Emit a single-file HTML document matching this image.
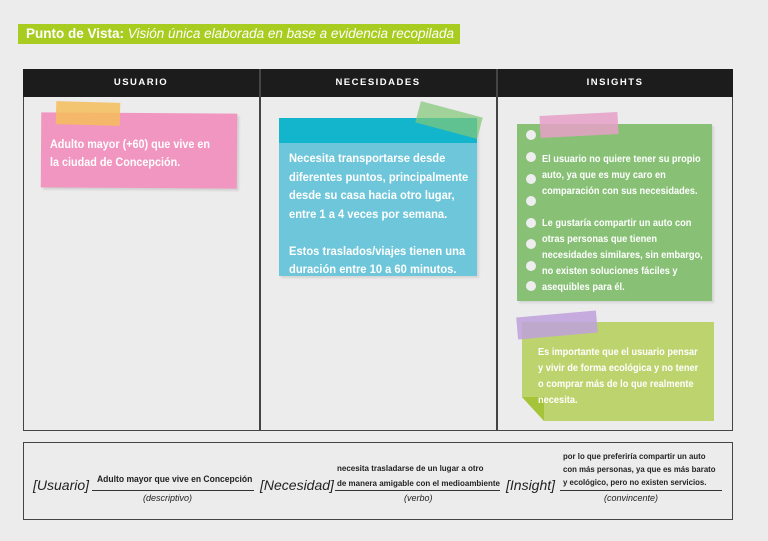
<!DOCTYPE html>
<html><head><meta charset="utf-8"><style>
*{margin:0;padding:0;box-sizing:border-box}
body{width:768px;height:541px;background:#ececec;position:relative;overflow:hidden;font-family:"Liberation Sans",sans-serif}
.a{position:absolute}
.h{font-weight:bold;color:#fff;transform:scaleX(.9);transform-origin:0 0;white-space:nowrap}
.hd{color:#fff;font-size:9.5px;font-weight:bold;letter-spacing:1.5px;text-align:center;line-height:28px;top:69px;height:28px;background:#1c1c1c}
.dot{position:absolute;left:9px;width:10px;height:10px;border-radius:50%;background:#eee}
.bt{font-weight:bold;color:#222;font-size:9px;line-height:15px;transform:scaleX(.94);transform-origin:0 0;white-space:nowrap}
.it{font-style:italic;color:#222}
</style></head><body>
<div class="a" style="left:18px;top:24px;width:442px;height:20px;background:#a8cc20;color:#fff;font-size:13.5px;line-height:20px;padding-left:8px;white-space:nowrap"><b>Punto de Vista:</b> <i>Visión única elaborada en base a evidencia recopilada</i></div>

<div class="a" style="left:23px;top:69px;width:710px;height:362px;border:1.5px solid #444"></div>
<div class="a hd" style="left:23px;width:236px">USUARIO</div>
<div class="a hd" style="left:260px;width:236px">NECESIDADES</div>
<div class="a hd" style="left:497px;width:236px">INSIGHTS</div>
<div class="a" style="left:259px;top:69px;width:1.5px;height:362px;background:#444"></div>
<div class="a" style="left:496px;top:69px;width:1.5px;height:362px;background:#444"></div>

<!-- pink -->
<div class="a" style="left:41px;top:113px;width:196px;height:75px;background:#f196c0;transform:rotate(0.4deg);box-shadow:2px 2px 2px rgba(0,0,0,.12)"></div>
<div class="a" style="left:56px;top:102px;width:64px;height:23px;background:rgba(246,190,90,.85);transform:rotate(1.5deg)"></div>
<div class="a h" style="left:50px;top:135px;font-size:12px;line-height:18px">Adulto mayor (+60) que vive en<br>la ciudad de Concepción.</div>

<!-- blue -->
<div class="a" style="left:279px;top:118px;width:198px;height:158px;background:#6ec6da;box-shadow:2px 2px 2px rgba(0,0,0,.1)"></div>
<div class="a" style="left:279px;top:118px;width:198px;height:25px;background:#12b5cc"></div>
<div class="a" style="left:417px;top:109px;width:64px;height:22px;background:rgba(130,200,120,.7);transform:rotate(15deg)"></div>
<div class="a h" style="left:289px;top:149px;font-size:12px;line-height:18.5px;transform:scaleX(.93)">Necesita transportarse desde<br>diferentes puntos, principalmente<br>desde su casa hacia otro lugar,<br>entre 1 a 4 veces por semana.<br><br>Estos traslados/viajes tienen una<br>duración entre 10 a 60 minutos.</div>

<!-- green -->
<div class="a" style="left:517px;top:124px;width:195px;height:177px;background:#88c176;box-shadow:2px 2px 2px rgba(0,0,0,.1)">
<div class="dot" style="top:6px"></div><div class="dot" style="top:28px"></div><div class="dot" style="top:50px"></div><div class="dot" style="top:72px"></div><div class="dot" style="top:94px"></div><div class="dot" style="top:115px"></div><div class="dot" style="top:137px"></div><div class="dot" style="top:157px"></div>
</div>
<div class="a" style="left:540px;top:114px;width:78px;height:22px;background:rgba(230,160,200,.85);transform:rotate(-3deg)"></div>
<div class="a h" style="left:542px;top:151px;font-size:10.5px;line-height:16px;transform:scaleX(.88)">El usuario no quiere tener su propio<br>auto, ya que es muy caro en<br>comparación con sus necesidades.<br><br>Le gustaría compartir un auto con<br>otras personas que tienen<br>necesidades similares, sin embargo,<br>no existen soluciones fáciles y<br>asequibles para él.</div>

<!-- lime -->
<div class="a" style="left:522px;top:322px;width:192px;height:99px;background:#bdd46e;clip-path:polygon(0 0,100% 0,100% 100%,22px 100%,0 75px);box-shadow:2px 2px 2px rgba(0,0,0,.1)"></div>
<div class="a" style="left:522px;top:397px;width:22px;height:24px;background:#a6c43a;clip-path:polygon(0 0,100% 0,100% 100%)"></div>
<div class="a" style="left:517px;top:314px;width:80px;height:22px;background:rgba(190,160,220,.85);transform:rotate(-5deg)"></div>
<div class="a h" style="left:538px;top:344px;font-size:10.5px;line-height:16px;transform:scaleX(.88)">Es importante que el usuario pensar<br>y vivir de forma ecológica y no tener<br>o comprar más de lo que realmente<br>necesita.</div>

<!-- bottom -->
<div class="a" style="left:23px;top:442px;width:710px;height:78px;border:1.5px solid #444"></div>
<div class="a it" style="left:33px;top:477px;font-size:14px">[Usuario]</div>
<div class="a" style="left:92px;top:490px;width:162px;height:1px;background:#333"></div>
<div class="a bt" style="left:97px;top:472px;transform:scaleX(.95)">Adulto mayor que vive en Concepción</div>
<div class="a it" style="left:143px;top:493px;font-size:9px">(descriptivo)</div>
<div class="a it" style="left:260px;top:477px;font-size:14px">[Necesidad]</div>
<div class="a" style="left:335px;top:490px;width:165px;height:1px;background:#333"></div>
<div class="a bt" style="left:337px;top:461px;font-size:8.5px">necesita trasladarse de un lugar a otro<br>de manera amigable con el medioambiente</div>
<div class="a it" style="left:404px;top:493px;font-size:9px">(verbo)</div>
<div class="a it" style="left:506px;top:477px;font-size:14px">[Insight]</div>
<div class="a" style="left:560px;top:490px;width:162px;height:1px;background:#333"></div>
<div class="a bt" style="left:563px;top:450px;font-size:8.5px;line-height:13px;transform:scaleX(.92)">por lo que preferiría compartir un auto<br>con más personas, ya que es más barato<br>y ecológico, pero no existen servicios.</div>
<div class="a it" style="left:604px;top:493px;font-size:9px">(convincente)</div>
</body></html>
